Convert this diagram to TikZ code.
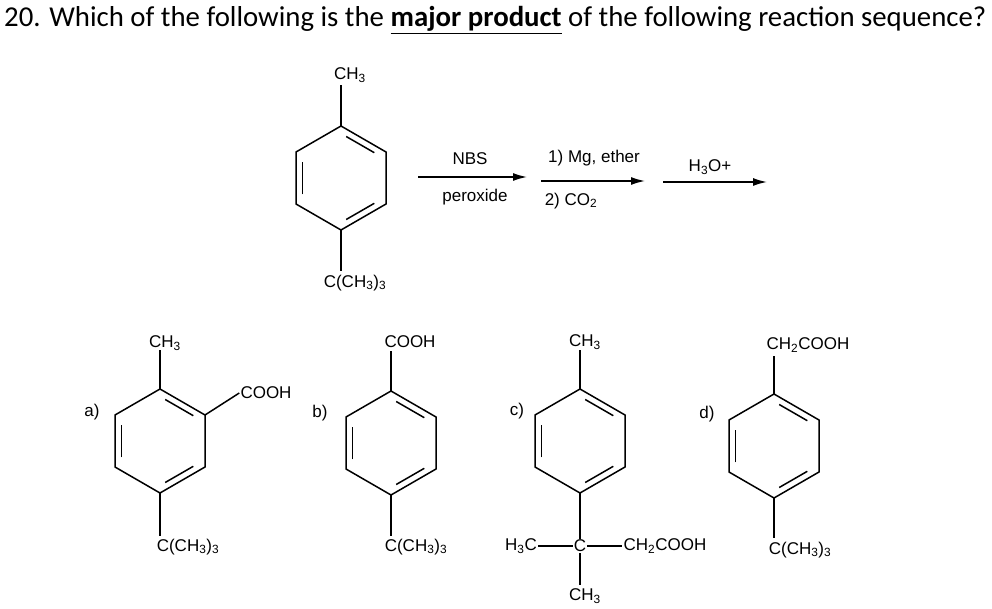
\documentclass[tikz,border=0pt]{standalone}
\usepackage{fontspec}
\setmainfont{Liberation Sans}
\newfontfamily\titlefont{Carlito}
\usetikzlibrary{calc,arrows.meta}
\newcommand\sub[1]{\textsubscript{#1}}
\tikzset{
  lbl/.style={font=\fontsize{17}{19}\selectfont, inner sep=1pt},
  bond/.style={line width=1.5pt},
  rxn/.style={line width=1.5pt,-{Latex[length=14pt,width=8pt]}},
}
\newcommand\ringat[3]{%
 \begin{scope}[shift={(#1,#2)}]
  \coordinate (#3T) at (0,-52); \coordinate (#3UR) at (45,-26);
  \coordinate (#3LR) at (45,26); \coordinate (#3B) at (0,52);
  \coordinate (#3LL) at (-45,26); \coordinate (#3UL) at (-45,-26);
  \draw[bond,line join=miter] (#3T)--(#3UR)--(#3LR)--(#3B)--(#3LL)--(#3UL)--cycle;
  \draw[bond,shorten <=6pt,shorten >=6pt] (0,-44.5)--(38.5,-22.3);
  \draw[bond,shorten <=6pt,shorten >=6pt] (38.5,22.3)--(0,44.5);
  \draw[bond,shorten <=6pt,shorten >=6pt] (-38.5,22.3)--(-38.5,-22.3);
 \end{scope}}
\begin{document}
\begin{tikzpicture}[x=1pt,y=-1pt]
\useasboundingbox (0,0) rectangle (992,609);
\node[anchor=west,font=\titlefont\fontsize{28.8}{31}\selectfont,inner sep=0] (title) at (4,20)
  {20. Which of the following is the \textbf{\underline{major product}} of the following reaction sequence?};
% starting material
\ringat{341}{178}{s}
\node[lbl] (sme) at (350,75) {CH\sub{3}};
\node[lbl] (stb) at (355,283) {C(CH\sub{3})\sub{3}};
\draw[bond] (sT)--(341,85);
\draw[bond] (sB)--(341,271);
% arrows
\coordinate (a1s) at (418,177); \coordinate (a1e) at (527,177);
\draw[rxn] (a1s)--(a1e);
\node[lbl] (nbs) at (470,159) {NBS};
\node[lbl] (per) at (475,197) {peroxide};
\coordinate (a2s) at (541,181); \coordinate (a2e) at (645,181);
\draw[rxn] (a2s)--(a2e);
\node[lbl] (mg) at (594,158) {1) Mg, ether};
\node[lbl] (co) at (571,201) {2) CO\sub{2}};
\coordinate (a3s) at (663,182); \coordinate (a3e) at (767,182);
\draw[rxn] (a3s)--(a3e);
\node[lbl] (h3o) at (710,167) {H\sub{3}O+};
% a
\node[lbl] (la) at (92,412) {a)};
\ringat{160}{441}{a}
\node[lbl] (ame) at (165,343) {CH\sub{3}};
\draw[bond] (aT)--(160,350);
\node[lbl] (acooh) at (266,393) {COOH};
\draw[bond] (aUR)--(acooh.west);
\node[lbl] (atb) at (188,547) {C(CH\sub{3})\sub{3}};
\draw[bond] (aB)--(160,536);
% b
\node[lbl] (lb) at (320,413) {b)};
\ringat{391}{443}{b}
\node[lbl] (bcooh) at (410,342) {COOH};
\draw[bond] (bT)--(391,351);
\node[lbl] (btb) at (416,547) {C(CH\sub{3})\sub{3}};
\draw[bond] (bB)--(391,536);
% c
\node[lbl] (lc) at (517,411) {c)};
\ringat{580}{441}{c}
\node[lbl] (cme) at (585,342) {CH\sub{3}};
\draw[bond] (cT)--(580,350);
\node[lbl] (cc) at (580,546) {C};
\draw[bond] (cB)--(cc.north);
\node[lbl] (ch3c) at (521,546) {H\sub{3}C};
\draw[bond] (ch3c.east)--(cc.west);
\node[lbl] (cch2) at (665,546) {CH\sub{2}COOH};
\draw[bond] (cc.east)--(cch2.west);
\node[lbl] (cme2) at (585,596) {CH\sub{3}};
\draw[bond] (cc.south)--(580,585);
% d
\node[lbl] (ld) at (707,414) {d)};
\ringat{774}{446}{d}
\node[lbl] (dch2) at (808,345) {CH\sub{2}COOH};
\draw[bond] (dT)--(774,356);
\node[lbl] (dtb) at (800,550) {C(CH\sub{3})\sub{3}};
\draw[bond] (dB)--(774,538);
\end{tikzpicture}
\end{document}
